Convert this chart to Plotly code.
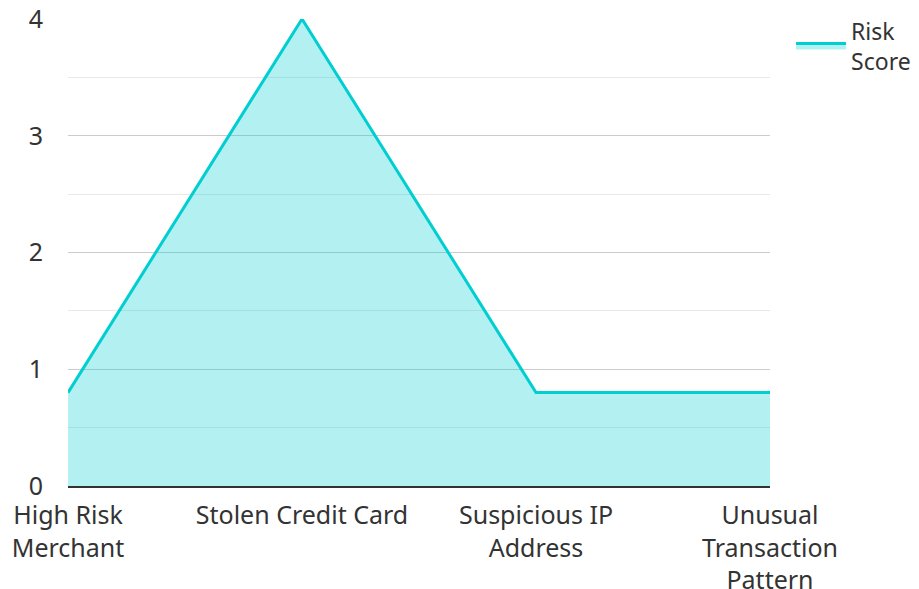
import plotly.graph_objects as go

categories = ["High Risk Merchant", "Stolen Credit Card", "Suspicious IP Address", "Unusual Transaction Pattern"]
tick_labels = ["High Risk<br>Merchant", "Stolen Credit Card", "Suspicious IP<br>Address", "Unusual<br>Transaction<br>Pattern"]
risk_score = [0.8, 4, 0.8, 0.8]
y_ticks = [0, 1, 2, 3, 4]

fig = go.Figure()
fig.add_trace(go.Scatter(
    x=categories, y=risk_score, mode="lines", name="Risk<br>Score",
    line=dict(color="#00CED1", width=3),
    fill="tozeroy", fillcolor="rgba(0,206,209,0.3)",
))

font = dict(family="Noto Sans", size=25, color="#333333")
fig.update_layout(
    width=911, height=581,
    margin=dict(l=60, r=149, t=11, b=103, autoexpand=False),
    plot_bgcolor="white", paper_bgcolor="white",
    font=font,
    showlegend=True,
    legend=dict(x=1.03, y=1.021, xanchor="left", yanchor="top",
                font=dict(family="Noto Sans", size=23, color="#333333"),
                bgcolor="rgba(0,0,0,0)", itemwidth=50, borderwidth=0),
    xaxis=dict(
        type="category", range=[0, 3], tickvals=categories, ticktext=tick_labels,
        showgrid=False, showline=True, linecolor="#333333", linewidth=2,
        ticks="", ticklabelstandoff=6, zeroline=False, automargin=False,
        ticklabeloverflow="allow",
    ),
    yaxis=dict(
        range=[0, 4], tickvals=y_ticks, showgrid=True, gridcolor="#cccccc", gridwidth=1,
        minor=dict(dtick=0.5, showgrid=True, gridcolor="#e8e8e8", gridwidth=1),
        zeroline=False, showline=False, ticks="", ticklabelstandoff=24, automargin=False,
        ticklabeloverflow="allow",
    ),
)
fig.write_html("out.html")
